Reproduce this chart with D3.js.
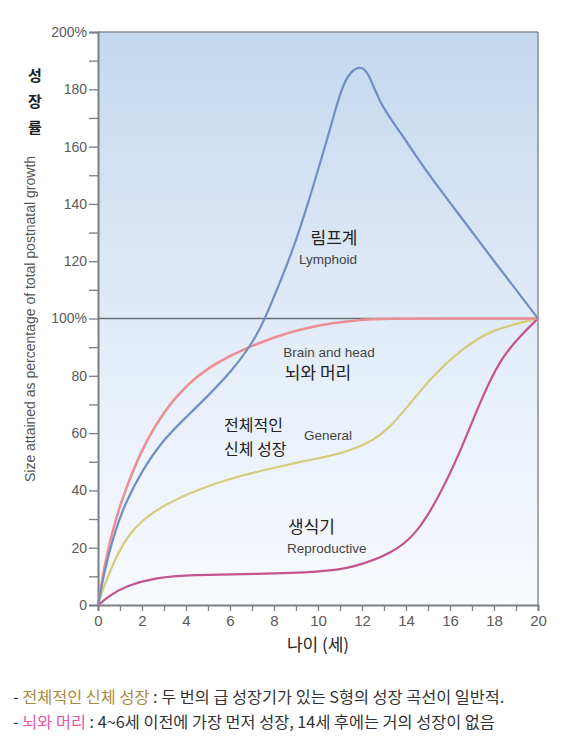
<!DOCTYPE html>
<html><head><meta charset="utf-8">
<script src="https://cdn.jsdelivr.net/npm/d3@7/dist/d3.min.js"></script>
<style>
html,body{margin:0;padding:0;background:#fff;}
svg{display:block;}
</style>
</head><body>
<svg id="chart" width="570" height="742"></svg>
<script>
// ---- data ----
const lymphAges   = [0,0.3,0.7,1.2,2,3,4,5,6,7,7.6,8.4,9,9.7,10.4,10.9,11.3,11.9,12.3,12.8,13.7,15,16,18,20];
const lymphVals   = [0,12,24,35,47,58,65.5,73,81,91,100,115,127,144,162,176,185,188.5,186,175,165.5,150.5,140.5,120,100];
const brainAges   = [0,0.3,0.6,1,1.7,2.6,3.6,4.6,5.5,6.7,8.2,9.2,10.7,12,13,16,20];
const brainVals   = [0,14,24,35,49.5,63,73.5,80.5,85,89.6,94,96.3,98.5,99.6,100,100,100];
const generalAges = [0,0.2,0.5,0.9,1.4,2,2.9,4.4,6.5,8.7,9.2,11,11.9,12.5,13.2,14,15.2,16.5,17.8,20];
const generalVals = [0,5,11,18,24.5,29.5,34.5,40,45.4,49,50,52.7,55.3,57.5,61.5,68.5,80,89,96,100];
const reproAges   = [0,0.5,1.15,2.7,4.2,7.2,10.2,11.5,13.4,14.5,15.5,16.5,17.4,18.3,19.2,20];
const reproVals   = [0,3,6.4,9.7,10.5,10.8,11.6,12.8,18,25,37.8,54,71.6,86,94,100];
const yTicks = [0,20,40,60,80,100,120,140,160,180,200];
const yTickLabels = ["0","20","40","60","80","100%","120","140","160","180","200%"];
const xTicks = [0,2,4,6,8,10,12,14,16,18,20];

const svg = d3.select("#chart");
const x = d3.scaleLinear().domain([0,20]).range([98,538]);
const y = d3.scaleLinear().domain([0,200]).range([605,32]);

// background gradient
const defs = svg.append("defs");
const grad = defs.append("linearGradient").attr("id","bg").attr("x1",0).attr("y1",0).attr("x2",0).attr("y2",1);
grad.append("stop").attr("offset","0%").attr("stop-color","#c4d8ee");
grad.append("stop").attr("offset","55%").attr("stop-color","#e4edf8");
grad.append("stop").attr("offset","100%").attr("stop-color","#f8fafd");
svg.append("rect").attr("x",x(0)).attr("y",y(200)).attr("width",x(20)-x(0)).attr("height",y(0)-y(200)).attr("fill","url(#bg)");

// frame top/right
svg.append("line").attr("x1",x(0)).attr("x2",x(20)).attr("y1",y(200)).attr("y2",y(200)).attr("stroke","#8a8f96").attr("stroke-width",1.5);
svg.append("line").attr("x1",x(20)).attr("x2",x(20)).attr("y1",y(200)).attr("y2",y(0)).attr("stroke","#8a8f96").attr("stroke-width",1.5);
// 100% line
svg.append("line").attr("x1",x(0)).attr("x2",x(20)).attr("y1",y(100)).attr("y2",y(100)).attr("stroke","#6a6f76").attr("stroke-width",1.5);

// axes
const tickFont = "'Liberation Sans Narrow','Liberation Sans',Arial,sans-serif";
const yAxis = d3.axisLeft(y).tickValues(d3.range(0,201,10)).tickSize(9).tickPadding(2)
  .tickFormat(d => { const i = yTicks.indexOf(d); return i>=0 ? yTickLabels[i] : ""; });
const gy = svg.append("g").attr("transform",`translate(${x(0)},0)`).call(yAxis);
const xAxis = d3.axisBottom(x).tickValues(d3.range(0,21,1)).tickSize(6).tickPadding(4)
  .tickFormat(d => xTicks.includes(d) ? String(d) : "");
const gx = svg.append("g").attr("transform",`translate(0,${y(0)})`).call(xAxis);
[gx,gy].forEach(g=>{
  g.select(".domain").attr("stroke","#7a7f86").attr("stroke-width",2);
  g.selectAll(".tick line").attr("stroke","#7a7f86").attr("stroke-width",1.3);
  g.selectAll(".tick text").attr("fill","#5a5a5a").style("font-family",tickFont).style("font-size","14px");
});
gx.selectAll(".tick text").style("font-size","15px");

// curves
const line = d3.line().x(d=>x(d[0])).y(d=>y(d[1])).curve(d3.curveBasis);
const series = [
  {ages:generalAges, vals:generalVals, color:"#d4cc7c", w:2.2},
  {ages:reproAges, vals:reproVals, color:"#c4538f", w:2.2},
  {ages:brainAges, vals:brainVals, color:"#ec8f95", w:2.6},
  {ages:lymphAges, vals:lymphVals, color:"#6f8ec2", w:2.2}
];
svg.append("g").selectAll("path").data(series).join("path")
  .attr("d", s => line(s.ages.map((a,i)=>[a,s.vals[i]])))
  .attr("fill","none").attr("stroke",s=>s.color).attr("stroke-width",s=>s.w);

// labels
const kr = "'Noto Sans CJK KR','Noto Sans',sans-serif";
const en = "'Liberation Sans Narrow','Liberation Sans',Arial,sans-serif";
function txt(t,px,py,opts){
  const o = Object.assign({size:16,fam:kr,fill:"#222",anchor:"start",weight:"normal"},opts||{});
  return svg.append("text").attr("x",px).attr("y",py).text(t)
    .attr("font-family",o.fam).attr("font-size",o.size).attr("fill",o.fill)
    .attr("text-anchor",o.anchor).attr("font-weight",o.weight);
}
txt("림프계",334,244,{anchor:"middle",size:17});
txt("Lymphoid",328,264,{anchor:"middle",size:13.5,fam:en,fill:"#444"});
txt("Brain and head",329,357,{anchor:"middle",size:13.5,fam:en,fill:"#444"});
txt("뇌와 머리",318,379,{anchor:"middle",size:17});
txt("전체적인",224,431,{size:16});
txt("신체 성장",224,455,{size:16});
txt("General",304,440,{size:13.5,fam:en,fill:"#444"});
txt("생식기",288,533,{size:17});
txt("Reproductive",287,553,{size:13.5,fam:en,fill:"#444"});

// axis titles
txt("성",35,81,{anchor:"middle",size:15,weight:"bold",fill:"#222"});
txt("장",35,107,{anchor:"middle",size:15,weight:"bold",fill:"#222"});
txt("률",35,133,{anchor:"middle",size:15,weight:"bold",fill:"#222"});
svg.append("text").attr("transform","translate(35,319) rotate(-90)")
  .attr("text-anchor","middle").attr("font-family",en).attr("font-size",14).attr("fill","#555")
  .text("Size attained as percentage of total postnatal growth");
txt("나이 (세)",318,651,{anchor:"middle",size:17,fill:"#222"});

// footer
function footer(py, parts){
  const t = svg.append("text").attr("x",13).attr("y",py).attr("font-family",kr).attr("font-size",16.3);
  parts.forEach(p=>t.append("tspan").attr("fill",p[1]).text(p[0]));
}
footer(703,[["- ","#333"],["전체적인 신체 성장","#a88b3c"],[" : 두 번의 급 성장기가 있는 S형의 성장 곡선이 일반적.","#333"]]);
footer(728,[["- ","#333"],["뇌와 머리","#e25aa6"],[" : 4~6세 이전에 가장 먼저 성장, 14세 후에는 거의 성장이 없음","#333"]]);
</script>
</body></html>
